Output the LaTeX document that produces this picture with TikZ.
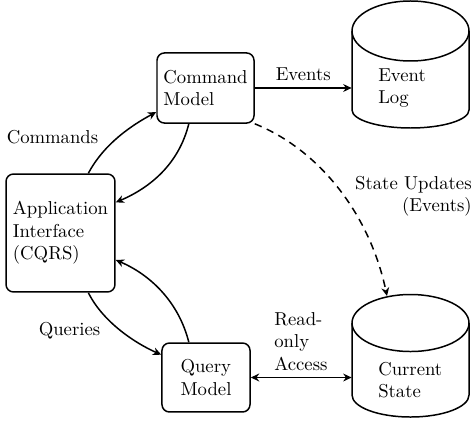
\documentclass[tikz,border=0pt]{standalone}
\usetikzlibrary{arrows.meta,calc}
\begin{document}
\begin{tikzpicture}[x=0.535pt,y=-0.535pt,
  box/.style={draw, line width=0.8pt, rounded corners=4pt, align=left, inner sep=3.33pt},
  dbtext/.style={align=left, text width=34.5pt, minimum width=62.6pt, inner sep=0pt},
  cyl/.style={line width=0.8pt},
  mytip/.tip={Stealth[length=4.5pt,width=4.2pt]},
  conn/.style={line width=0.8pt, -mytip},
  lbl/.style={inner sep=0pt}]
\useasboundingbox (0,0) rectangle (474,440);
% boxes
\node[box, minimum width=51.9pt, minimum height=37.5pt] (cm) at (205.5,88) {Command\\Model};
\node[box, minimum width=58.3pt, minimum height=63.1pt] (app) at (60.5,233) {Application\\Interface\\(CQRS)};
\node[box, minimum width=47.1pt, minimum height=36.9pt] (qm) at (206,377.5) {Query\\Model};
% event log cylinder
\draw[cyl] (410.5,31) ellipse [x radius=31.3pt, y radius=16.05pt];
\draw[cyl] (352,31) -- (352,110) arc[start angle=180, end angle=360, x radius=31.3pt, y radius=9.63pt] -- (469,31);
\node[dbtext] (el) at (410.5,88) {Event\\Log};
% current state cylinder
\draw[cyl] (410.5,323) ellipse [x radius=31.3pt, y radius=15.25pt];
\draw[cyl] (352,323) -- (352,395) arc[start angle=180, end angle=360, x radius=31.3pt, y radius=11.77pt] -- (469,323);
\node[dbtext] (cs) at (410.5,380) {Current\\State};
\coordinate (cstop) at (387,296);
% connectors
\draw[conn] (cm.east) -- (el.west) node[midway, above] (lev) {Events};
\draw[conn] (app.65) .. controls +(16,-30) and +(-24,13) .. (cm.206);
\draw[conn] (cm.245) .. controls +(-10,40) and +(35,-15) .. (app.29);
\draw[conn] (app.295) .. controls +(15,30) and +(-25,-11) .. (qm.153);
\draw[conn] (qm.116) .. controls +(-10,-40) and +(35,15) .. (app.-26);
\draw[line width=0.8pt, mytip-mytip] (qm.east) -- (qm.east -| cs.west);
\draw[conn, dash pattern=on 4pt off 3pt] (cm.south east) .. controls (320,150) and (370,215) .. (cstop);
% labels
\node[lbl, anchor=base] (lcmd) at (52.5,143) {Commands};
\node[lbl, anchor=base] (lq) at (69.5,335) {Queries};
\node[lbl, anchor=north east, align=right] (lsu) at (472,176) {State Updates\\(Events)};
\node[lbl, anchor=south west, align=left] (lro) at (274,371) {Read-\\only\\Access};
\end{tikzpicture}
\end{document}
